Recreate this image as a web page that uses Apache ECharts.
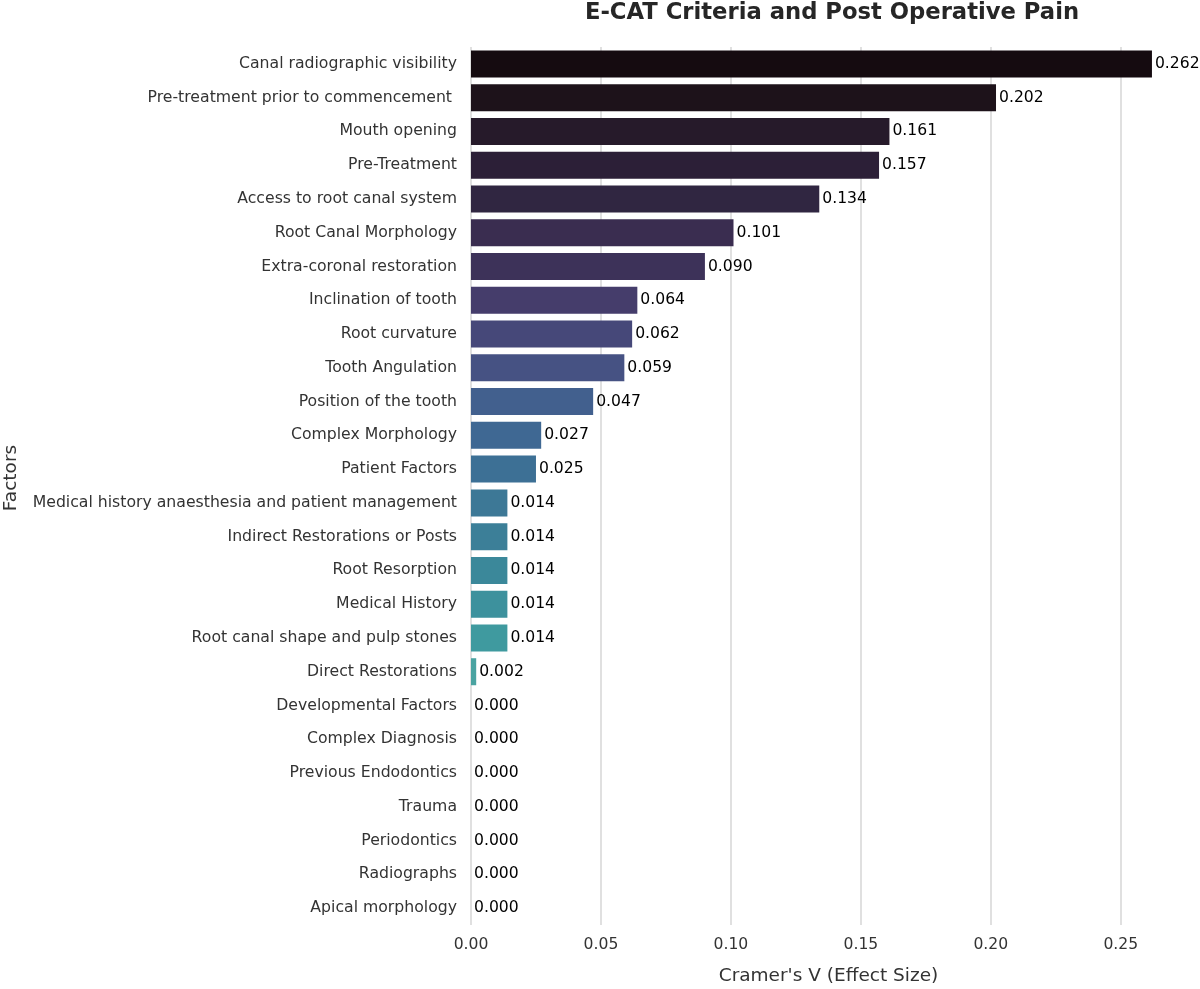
<!DOCTYPE html>
<html lang="en">

<head>
    <meta charset="UTF-8">
    <title>E-CAT Criteria and Post Operative Pain</title>
    <style>
        html, body { margin: 0; padding: 0; background: #fff; }
        #main { width: 1200px; height: 989px; }
    </style>
</head>

<body>
    <div id="main"></div>
    <script src="https://cdn.jsdelivr.net/npm/echarts@6/dist/echarts.min.js"></script>
    <script>
        // factors, top to bottom
        var factors = [
            'Canal radiographic visibility',
            'Pre-treatment prior to commencement ',
            'Mouth opening',
            'Pre-Treatment',
            'Access to root canal system',
            'Root Canal Morphology',
            'Extra-coronal restoration',
            'Inclination of tooth',
            'Root curvature',
            'Tooth Angulation',
            'Position of the tooth',
            'Complex Morphology',
            'Patient Factors',
            'Medical history anaesthesia and patient management',
            'Indirect Restorations or Posts',
            'Root Resorption',
            'Medical History',
            'Root canal shape and pulp stones',
            'Direct Restorations',
            'Developmental Factors',
            'Complex Diagnosis',
            'Previous Endodontics',
            'Trauma',
            'Periodontics',
            'Radiographs',
            'Apical morphology'
        ];
        var cramersV = [0.262, 0.202, 0.161, 0.157, 0.134, 0.101, 0.090, 0.064, 0.062, 0.059,
            0.047, 0.027, 0.025, 0.014, 0.014, 0.014, 0.014, 0.014, 0.002,
            0, 0, 0, 0, 0, 0, 0];
        var xTicks = [0, 0.05, 0.10, 0.15, 0.20, 0.25];

        // mako-like palette (desaturated, like seaborn)
        var palette = ['#150b10', '#1d121a', '#261a2a', '#2c1f37', '#302641', '#3a2d50',
            '#3d3259', '#453d6b', '#464879', '#465283', '#42608e', '#3f6893',
            '#3d7095', '#3d7896', '#3c7f98', '#3b889a', '#3d919d', '#3f9a9f',
            '#4aa3a1', '#56b0a3', '#68bda6', '#80c8ab', '#9bd3b5', '#b4dcc2',
            '#c9e6d0', '#dcefdf'];

        var myChart = echarts.init(document.getElementById('main'));

        var option = {
            animation: false,
            title: {
                text: 'E-CAT Criteria and Post Operative Pain',
                left: 827,
                top: -3,
                textAlign: 'center',
                textStyle: {
                    fontFamily: 'DejaVu Sans',
                    fontSize: 22.7,
                    fontWeight: 'bold',
                    color: '#262626'
                }
            },
            grid: {
                left: 471,
                right: 14,
                top: 47,
                bottom: 64,
                outerBoundsMode: 'none',
                containLabel: false
            },
            xAxis: {
                type: 'value',
                min: 0,
                max: 0.2751,
                interval: 0.05,
                name: "Cramer's V (Effect Size)",
                nameLocation: 'middle',
                nameGap: 42,
                nameTextStyle: {
                    fontFamily: 'DejaVu Sans',
                    fontSize: 18.5,
                    color: '#333'
                },
                axisLine: { show: false },
                axisTick: { show: false },
                axisLabel: {
                    margin: 12,
                    fontFamily: 'DejaVu Sans',
                    fontSize: 15.6,
                    color: '#333',
                    showMaxLabel: false,
                    formatter: function (v) {
                        return xTicks.indexOf(Math.round(v * 100) / 100) >= 0 ? v.toFixed(2) : '';
                    }
                },
                splitLine: {
                    show: true,
                    showMaxLine: false,
                    lineStyle: { color: '#d6d6d6', width: 1.5 }
                }
            },
            yAxis: {
                type: 'category',
                data: factors,
                inverse: true,
                name: 'Factors',
                nameLocation: 'middle',
                nameRotate: 90,
                nameGap: 450,
                nameTextStyle: {
                    fontFamily: 'DejaVu Sans',
                    fontSize: 18.5,
                    color: '#333',
                    padding: [0, 0, 0, 16]
                },
                axisLine: { show: false },
                axisTick: { show: false },
                axisLabel: {
                    margin: 14,
                    fontFamily: 'DejaVu Sans',
                    fontSize: 15.7,
                    color: '#333'
                },
                splitLine: { show: false }
            },
            series: [{
                type: 'bar',
                barCategoryGap: '20%',
                data: cramersV.map(function (v, i) {
                    return { value: v, itemStyle: { color: palette[i] } };
                }),
                label: {
                    show: true,
                    position: 'right',
                    distance: 3,
                    fontFamily: 'DejaVu Sans',
                    fontSize: 15.6,
                    color: '#000',
                    formatter: function (p) {
                        return p.value.toFixed(3);
                    }
                }
            }]
        };
        myChart.setOption(option);
    </script>

</body>

</html>
